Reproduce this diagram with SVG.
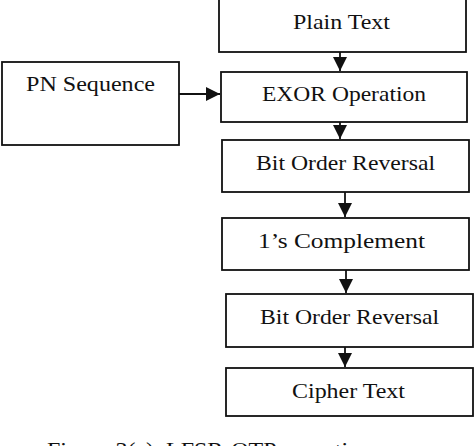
<svg xmlns="http://www.w3.org/2000/svg" width="474" height="446" viewBox="0 0 474 446">
<style>
.box{fill:#fff;stroke:#111;stroke-width:1.8}
.lbl{font-family:'Liberation Serif','DejaVu Serif','Times New Roman',serif;font-size:21px;fill:#111}
.conn{stroke:#111;stroke-width:1.8;fill:none}
</style>
<defs>
<marker id="ah" markerWidth="15" markerHeight="14" refX="14" refY="7" orient="auto" markerUnits="userSpaceOnUse">
<path d="M0,0 L14,7 L0,14 Z" fill="#111"/>
</marker>
</defs>
<rect width="474" height="446" fill="#fff"/>
<g id="plain">
<rect class="box" x="219" y="-5" width="247" height="57"/>
<text class="lbl" font-family="Liberation Serif, serif" x="293" y="29" textLength="97" lengthAdjust="spacingAndGlyphs">Plain Text</text>
</g>
<g id="pn">
<rect class="box" x="2" y="62" width="177" height="83"/>
<text class="lbl" font-family="Liberation Serif, serif" x="26" y="91" textLength="129" lengthAdjust="spacingAndGlyphs">PN Sequence</text>
</g>
<g id="exor">
<rect class="box" x="221" y="72" width="246" height="50"/>
<text class="lbl" font-family="Liberation Serif, serif" x="262" y="101" textLength="164" lengthAdjust="spacingAndGlyphs">EXOR Operation</text>
</g>
<g id="bor1">
<rect class="box" x="222" y="140" width="247" height="52"/>
<text class="lbl" font-family="Liberation Serif, serif" x="256" y="170" textLength="179" lengthAdjust="spacingAndGlyphs">Bit Order Reversal</text>
</g>
<g id="comp">
<rect class="box" x="222" y="218" width="247" height="52"/>
<text class="lbl" font-family="Liberation Serif, serif" x="258" y="248" textLength="167" lengthAdjust="spacingAndGlyphs">1’s Complement</text>
</g>
<g id="bor2">
<rect class="box" x="226" y="294" width="247" height="53"/>
<text class="lbl" font-family="Liberation Serif, serif" x="260" y="324" textLength="179" lengthAdjust="spacingAndGlyphs">Bit Order Reversal</text>
</g>
<g id="cipher">
<rect class="box" x="226" y="368" width="247" height="48"/>
<text class="lbl" font-family="Liberation Serif, serif" x="292" y="398" textLength="113" lengthAdjust="spacingAndGlyphs">Cipher Text</text>
</g>
<g id="connectors">
<line class="conn" x1="340" y1="52" x2="340" y2="71" marker-end="url(#ah)"/>
<line class="conn" x1="179" y1="94" x2="220" y2="94" marker-end="url(#ah)"/>
<line class="conn" x1="340" y1="122" x2="340" y2="139" marker-end="url(#ah)"/>
<line class="conn" x1="345" y1="192" x2="345" y2="217" marker-end="url(#ah)"/>
<line class="conn" x1="346" y1="270" x2="346" y2="293" marker-end="url(#ah)"/>
<line class="conn" x1="345" y1="347" x2="345" y2="367" marker-end="url(#ah)"/>
</g>
<text class="lbl" font-family="Liberation Serif, serif" x="47" y="457" font-size="22" textLength="325" lengthAdjust="spacingAndGlyphs">Figure 3(a). LFSR-OTP operation</text>
</svg>
